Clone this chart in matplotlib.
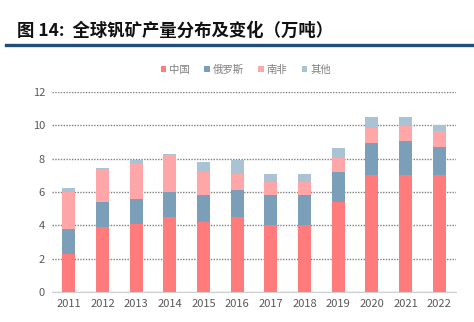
import numpy as np
import matplotlib
matplotlib.use('Agg')
import matplotlib.pyplot as plt
from matplotlib.lines import Line2D

plt.rcParams['font.family'] = ['Noto Sans CJK SC', 'DejaVu Sans']

years = ['2011', '2012', '2013', '2014', '2015', '2016', '2017', '2018', '2019', '2020', '2021', '2022']
china = [2.3, 3.9, 4.1, 4.5, 4.2, 4.5, 4.0, 4.0, 5.4, 7.0, 7.0, 7.0]
russia = [1.5, 1.5, 1.5, 1.5, 1.6, 1.6, 1.8, 1.8, 1.8, 1.95, 2.05, 1.7]
south_africa = [2.2, 2.0, 2.1, 2.2, 1.4, 1.0, 0.8, 0.8, 0.85, 0.9, 0.9, 0.96]
other = [0.22, 0.03, 0.2, 0.1, 0.6, 0.8, 0.5, 0.5, 0.6, 0.66, 0.56, 0.34]

names = ['中国', '俄罗斯', '南非', '其他']
colors = ['#ff7b7c', '#7b9eb9', '#ffa6a9', '#a9c3d5']

fig = plt.figure(figsize=(4.74, 3.22), dpi=100)

# header: title and blue rule
fig.text(17 / 474, 1 - 31 / 322, '图 14:  全球钒矿产量分布及变化（万吨）', fontsize=12.5,
         fontweight='bold', va='center', ha='left', color='#111111')
fig.add_artist(Line2D([6 / 474, 1.0], [1 - 45 / 322] * 2, color='#1f4e79', lw=2.4))

ax = fig.add_axes([52 / 474, 1 - 292 / 322, 404 / 474, 200 / 322])
x = np.arange(len(years))
bottom = np.zeros(len(years))
for vals, name, c in zip([china, russia, south_africa, other], names, colors):
    ax.bar(x, vals, width=0.38, bottom=bottom, color=c, label=name, zorder=3)
    bottom += np.array(vals)

ax.set_xlim(-0.5, len(years) - 0.5)
ax.set_ylim(0, 12)
ax.set_yticks(range(0, 13, 2))
ax.set_xticks(x)
ax.set_xticklabels(years)
ax.tick_params(length=0, labelsize=8, colors='#595959', pad=5)
ax.yaxis.grid(True, linestyle=(0, (1, 1)), color='#808080', lw=1.0, zorder=0)
for s in ['top', 'right', 'left']:
    ax.spines[s].set_visible(False)
ax.spines['bottom'].set_color('#d0d0d0')

leg = ax.legend(loc='lower center', bbox_to_anchor=(0.48, 1.04), ncol=4, frameon=False,
                fontsize=7.5, handlelength=0.5, handleheight=0.5, handletextpad=0.3,
                columnspacing=1.4, labelcolor='#808080')

fig.savefig('out.png', dpi=100)
